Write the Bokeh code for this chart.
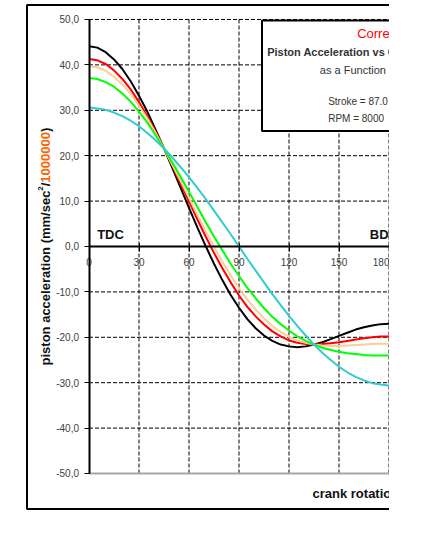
import math
from bokeh.plotting import figure
from bokeh.models import FixedTicker, Range1d, BoxAnnotation, Label
from bokeh.embed import file_html
from bokeh.resources import INLINE

# ---- data ----
angles = [0, 5, 10, 15, 20, 25, 30, 35, 40, 45, 50, 55, 60, 65, 70, 75, 80, 85, 90,
          95, 100, 105, 110, 115, 120, 125, 130, 135, 140, 145, 150, 155, 160, 165, 170, 175, 180]
accel_black = [44.1, 43.8, 42.8, 41.2, 39.1, 36.4, 33.2, 29.7, 25.7, 21.6, 17.3, 12.9, 8.5, 4.2, 0.1,
               -3.8, -7.4, -10.7, -13.5, -16.0, -18.0, -19.6, -20.8, -21.6, -22.0, -22.2, -22.0, -21.6,
               -21.1, -20.4, -19.7, -19.0, -18.3, -17.8, -17.4, -17.1, -17.0]
accel_red = [41.3, 41.0, 40.2, 38.8, 36.9, 34.6, 31.8, 28.7, 25.3, 21.6, 17.8, 13.8, 9.9, 6.0, 2.2,
             -1.4, -4.8, -7.9, -10.8, -13.3, -15.4, -17.2, -18.7, -19.8, -20.7, -21.2, -21.5, -21.6,
             -21.5, -21.3, -21.1, -20.8, -20.5, -20.2, -20.0, -19.8, -19.8]
accel_peach = [39.7, 39.5, 38.7, 37.4, 35.7, 33.6, 31.0, 28.2, 25.0, 21.6, 18.0, 14.4, 10.7, 7.0, 3.4,
               0.0, -3.3, -6.4, -9.2, -11.7, -13.9, -15.8, -17.5, -18.8, -19.9, -20.7, -21.2, -21.6,
               -21.8, -21.9, -21.9, -21.8, -21.7, -21.6, -21.5, -21.4, -21.4]
accel_green = [37.1, 36.9, 36.2, 35.2, 33.7, 31.9, 29.7, 27.3, 24.5, 21.6, 18.5, 15.3, 12.0, 8.7, 5.4,
               2.2, -0.8, -3.8, -6.5, -9.1, -11.4, -13.6, -15.5, -17.1, -18.5, -19.8, -20.8, -21.6,
               -22.3, -22.8, -23.2, -23.5, -23.7, -23.9, -24.0, -24.0, -24.0]
accel_cyan = [30.6, 30.4, 30.1, 29.5, 28.7, 27.7, 26.5, 25.0, 23.4, 21.6, 19.6, 17.5, 15.3, 12.9, 10.5,
              7.9, 5.3, 2.7, 0.0, -2.7, -5.3, -7.9, -10.5, -12.9, -15.3, -17.5, -19.6, -21.6,
              -23.4, -25.0, -26.5, -27.7, -28.7, -29.5, -30.1, -30.4, -30.6]

series_colors = ["#000000", "#ff0000", "#ffcc99", "#00ff00", "#33cccc"]
series_values = [accel_black, accel_red, accel_peach, accel_green, accel_cyan]

x_ticks = [0, 30, 60, 90, 120, 150, 180]
y_ticks = [-50, -40, -30, -20, -10, 0, 10, 20, 30, 40, 50]
y_tick_labels = ["-50,0", "-40,0", "-30,0", "-20,0", "-10,0", "0,0", "10,0", "20,0", "30,0", "40,0", "50,0"]

box_lines = ["Correct", "Piston Acceleration vs Crank Rotation", "as a Function of Rod Length",
             "Stroke = 87.0 mm", "RPM = 8000"]

FONT = "Liberation Sans"
X0, X1 = -38.7, 180.3
Y0, Y1 = -58.59, 53.74

p = figure(width=389, height=512, output_backend="svg", toolbar_location=None,
           x_range=Range1d(X0, X1), y_range=Range1d(Y0, Y1),
           min_border_left=24, min_border_right=0, min_border_top=2, min_border_bottom=0)
p.outline_line_color = None
p.background_fill_color = "white"
p.border_fill_color = "white"
p.grid.grid_line_color = None

# dashed grid from the tick arrays, bounded to the plot area
p.segment(x0=x_ticks[1:], y0=[y_ticks[0]] * (len(x_ticks) - 1), x1=x_ticks[1:],
          y1=[y_ticks[-1]] * (len(x_ticks) - 1), line_color="black", line_width=1, line_dash="4 2")
p.segment(x0=[0] * (len(y_ticks) - 1), y0=y_ticks[1:], x1=[X1] * (len(y_ticks) - 1),
          y1=y_ticks[1:], line_color="black", line_width=1, line_dash="4 2")
# grey floor of the plot area
p.segment(x0=[0], y0=[y_ticks[0]], x1=[X1], y1=[y_ticks[0]], line_color="#a6a6a6", line_width=2)

# x axis through zero
xa = p.xaxis[0]
xa.fixed_location = 0
xa.bounds = (0, X1)
xa.ticker = FixedTicker(ticks=x_ticks)
xa.axis_line_width = 2
xa.axis_line_color = "black"
xa.major_tick_in = 3
xa.major_tick_out = 5
xa.major_tick_line_color = "black"
xa.minor_tick_line_color = None
xa.major_label_standoff = 7
xa.major_label_text_font = FONT
xa.major_label_text_font_size = "10px"
xa.major_label_text_color = "#404040"

ya = p.yaxis[0]
ya.fixed_location = 0
ya.bounds = (y_ticks[0], y_ticks[-1])
ya.ticker = FixedTicker(ticks=y_ticks)
ya.major_label_overrides = {t: s for t, s in zip(y_ticks, y_tick_labels)}
ya.axis_line_width = 2
ya.axis_line_color = "black"
ya.major_tick_in = 0
ya.major_tick_out = 5
ya.major_tick_line_color = "black"
ya.minor_tick_line_color = None
ya.major_label_standoff = 5
ya.major_label_text_font = FONT
ya.major_label_text_font_size = "10px"
ya.major_label_text_color = "#404040"

for vals, col in zip(series_values, series_colors):
    p.line(angles, vals, line_color=col, line_width=2)

# outer chart border
p.add_layout(BoxAnnotation(left=-37.2, right=260, top=53.19, bottom=-57.82,
                           fill_color=None, line_color="black", line_alpha=1.0, line_width=2))

# text box
p.add_layout(BoxAnnotation(left=103.8, right=260, top=49.78, bottom=25.44,
                           fill_color="white", fill_alpha=1.0, line_color="black",
                           line_alpha=1.0, line_width=2))

def lab(x, y, text, size, color="#333333", style="normal", angle=0.0):
    p.add_layout(Label(x=x, y=y, text=text, text_font=FONT, text_font_size=size,
                       text_color=color, text_font_style=style, angle=angle,
                       text_align="left", text_baseline="middle"))

lab(160.9, 46.85, box_lines[0], "13px", color="#ff0000")
lab(106.9, 42.8, box_lines[1], "11px", style="bold")
lab(138.5, 38.92, box_lines[2], "11px")
lab(143.5, 32.0, box_lines[3], "10px")
lab(143.5, 28.19, box_lines[4], "10px")

lab(4.9, 2.64, "TDC", "13px", color="#111111", style="bold")
lab(168.5, 2.64, "BDC", "13px", color="#111111", style="bold")

# axis titles
lab(134.1, -54.4, "crank rotation (degrees)", "13px", color="#111111", style="bold")
r = math.pi / 2
lab(-26.1, -26.2, "piston acceleration (mm/sec", "13px", color="#111111", style="bold", angle=r)
lab(-29.4, 12.29, "2", "8px", color="#111111", style="bold", angle=r)
lab(-26.1, 13.26, "/", "13px", color="#111111", style="bold", angle=r)
lab(-26.1, 14.05, "1000000", "13px", color="#ff6600", style="bold", angle=r)
lab(-26.1, 25.2, ")", "13px", color="#111111", style="bold", angle=r)

open("out.html", "w").write(file_html(p, INLINE))
